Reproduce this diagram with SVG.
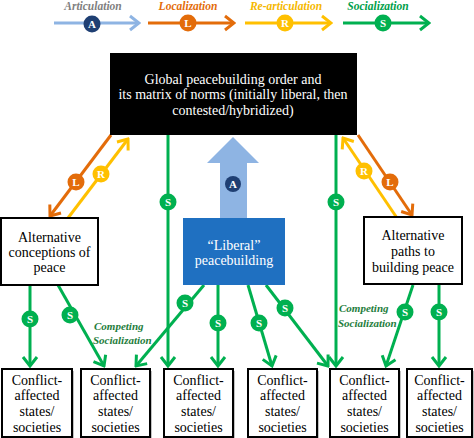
<svg xmlns="http://www.w3.org/2000/svg" width="474" height="438" viewBox="0 0 474 438" font-family="'Liberation Serif', 'Times New Roman', serif">
<defs>
<style>
text{font-family:'Liberation Serif','Times New Roman',serif;}
.lg{font-size:11.5px;font-weight:bold;font-style:italic;text-anchor:middle;}
.box{fill:#fff;stroke:#000;stroke-width:2;}
.shd{fill:#9a9a9a;opacity:0.6;}
.bt{font-size:14px;text-anchor:middle;fill:#000;}
.wt{font-size:14px;text-anchor:middle;fill:#fff;}
.g{stroke:#00b050;stroke-width:3;fill:none;marker-end:url(#mg);}
.circ text{font-size:11px;font-weight:bold;fill:#fff;text-anchor:middle;}
.cs{font-size:11px;font-weight:bold;font-style:italic;fill:#1e7d3c;}
</style>
<marker id="mg" markerUnits="userSpaceOnUse" viewBox="-12 -9 14 18" refX="0" refY="0" markerWidth="14" markerHeight="18" orient="auto"><path d="M-9,-7 L0,0 L-9,7" fill="none" stroke="#00b050" stroke-width="3"/></marker>
<marker id="mo" markerUnits="userSpaceOnUse" viewBox="-12 -9 14 18" refX="0" refY="0" markerWidth="14" markerHeight="18" orient="auto"><path d="M-9,-7 L0,0 L-9,7" fill="none" stroke="#e36c0a" stroke-width="3"/></marker>
<marker id="my" markerUnits="userSpaceOnUse" viewBox="-12 -9 14 18" refX="0" refY="0" markerWidth="14" markerHeight="18" orient="auto"><path d="M-9,-7 L0,0 L-9,7" fill="none" stroke="#ffc000" stroke-width="3"/></marker>
<marker id="mb" markerUnits="userSpaceOnUse" viewBox="-12 -9 14 18" refX="0" refY="0" markerWidth="14" markerHeight="18" orient="auto"><path d="M-9,-7 L0,0 L-9,7" fill="none" stroke="#8eb4e3" stroke-width="3"/></marker>
</defs>
<rect width="474" height="438" fill="#fff"/>

<g id="legend">
<text class="lg" x="93" y="10" fill="#7f7f7f">Articulation</text>
<text class="lg" x="188" y="10" fill="#e36c0a">Localization</text>
<text class="lg" x="286" y="10" fill="#f5b800">Re-articulation</text>
<text class="lg" x="378" y="10" fill="#00a04a">Socialization</text>
<line x1="54" y1="23" x2="139" y2="23" stroke="#8eb4e3" stroke-width="3" marker-end="url(#mb)"/>
<line x1="148" y1="23" x2="234" y2="23" stroke="#e36c0a" stroke-width="3" marker-end="url(#mo)"/>
<line x1="245" y1="23" x2="331" y2="23" stroke="#ffc000" stroke-width="3" marker-end="url(#my)"/>
<line x1="343" y1="23" x2="429" y2="23" stroke="#00b050" stroke-width="3" marker-end="url(#mg)"/>
<g class="circ">
<circle cx="92" cy="24" r="8.5" fill="#1f3f73"/><text x="92" y="28">A</text>
<circle cx="188" cy="23" r="8.5" fill="#e36c0a"/><text x="188" y="27">L</text>
<circle cx="285" cy="23" r="8.5" fill="#ffc000"/><text x="285" y="27">R</text>
<circle cx="383" cy="23" r="8.5" fill="#00b050"/><text x="383" y="27">S</text>
</g>
</g>

<g id="connectors">
<polygon points="220,218 220,163 207,163 233,137 259,163 247,163 247,218" fill="#8eb4e3"/>
<line x1="111" y1="135" x2="50" y2="216" stroke="#e36c0a" stroke-width="3" marker-end="url(#mo)"/>
<line x1="68" y1="218" x2="128" y2="139" stroke="#ffc000" stroke-width="3" marker-end="url(#my)"/>
<line x1="358" y1="135" x2="412" y2="215" stroke="#e36c0a" stroke-width="3" marker-end="url(#mo)"/>
<line x1="397" y1="218" x2="343" y2="138" stroke="#ffc000" stroke-width="3" marker-end="url(#my)"/>
<line class="g" x1="168" y1="135" x2="168" y2="366"/>
<line class="g" x1="336" y1="135" x2="336" y2="366"/>
<line class="g" x1="30" y1="285" x2="30" y2="366"/>
<line class="g" x1="58" y1="285" x2="104" y2="366"/>
<line class="g" x1="204" y1="285" x2="136" y2="366"/>
<line class="g" x1="218" y1="285" x2="218" y2="366"/>
<line class="g" x1="248" y1="285" x2="272" y2="366"/>
<line class="g" x1="266" y1="285" x2="328" y2="366"/>
<line class="g" x1="413" y1="285" x2="386" y2="366"/>
<line class="g" x1="439" y1="285" x2="439" y2="366"/>
<g class="circ">
<circle cx="76" cy="182" r="8.5" fill="#e36c0a"/><text x="76" y="186">L</text>
<circle cx="101" cy="174" r="8.5" fill="#ffc000"/><text x="101" y="178">R</text>
<circle cx="390" cy="182" r="8.5" fill="#e36c0a"/><text x="390" y="186">L</text>
<circle cx="364" cy="171" r="8.5" fill="#ffc000"/><text x="364" y="175">R</text>
<circle cx="233" cy="184" r="8" fill="#1f3f73"/><text x="233" y="188">A</text>
<circle cx="168" cy="202" r="8.5" fill="#00b050"/><text x="168" y="206">S</text>
<circle cx="336" cy="202" r="8.5" fill="#00b050"/><text x="336" y="206">S</text>
<circle cx="30" cy="319" r="8.5" fill="#00b050"/><text x="30" y="323">S</text>
<circle cx="70" cy="315" r="8.5" fill="#00b050"/><text x="70" y="319">S</text>
<circle cx="185" cy="303" r="8.5" fill="#00b050"/><text x="185" y="307">S</text>
<circle cx="218" cy="323" r="8.5" fill="#00b050"/><text x="218" y="327">S</text>
<circle cx="259" cy="323" r="8.5" fill="#00b050"/><text x="259" y="327">S</text>
<circle cx="285" cy="308" r="8.5" fill="#00b050"/><text x="285" y="312">S</text>
<circle cx="405" cy="312" r="8.5" fill="#00b050"/><text x="405" y="316">S</text>
<circle cx="439" cy="312" r="8.5" fill="#00b050"/><text x="439" y="316">S</text>
</g>
<text class="cs" x="94" y="330">Competing</text>
<text class="cs" x="93" y="344">Socialization</text>
<text class="cs" x="339" y="312">Competing</text>
<text class="cs" x="338" y="327">Socialization</text>
</g>

<g id="global">
<rect x="110" y="53" width="247" height="82" fill="#000"/>
<text class="wt" x="233" y="84">Global peacebuilding order and</text>
<text class="wt" x="233" y="99">its matrix of norms (initially liberal, then</text>
<text class="wt" x="233" y="115">contested/hybridized)</text>
</g>

<g id="alt-conceptions">
<rect class="box" x="1" y="218" width="97" height="67"/>
<text class="bt" x="49.5" y="242">Alternative</text>
<text class="bt" x="49.5" y="257">conceptions of</text>
<text class="bt" x="49.5" y="272">peace</text>
</g>

<g id="liberal">
<rect x="183" y="218" width="102" height="67" fill="#1f70c1"/>
<text class="wt" x="234" y="250">“Liberal”</text>
<text class="wt" x="234" y="265">peacebuilding</text>
</g>

<g id="alt-paths">
<rect class="box" x="364" y="217" width="98" height="67"/>
<text class="bt" x="413" y="240">Alternative</text>
<text class="bt" x="413" y="256">paths to</text>
<text class="bt" x="413" y="272">building peace</text>
</g>

<g id="cas1">
<rect class="shd" x="4" y="371" width="70" height="68"/>
<rect class="box" x="2" y="369" width="70" height="68"/>
<text class="bt" x="37" y="385">Conflict-</text><text class="bt" x="37" y="400">affected</text><text class="bt" x="37" y="416">states/</text><text class="bt" x="37" y="432">societies</text>
</g>
<g id="cas2">
<rect class="shd" x="83" y="371" width="69" height="68"/>
<rect class="box" x="81" y="369" width="69" height="68"/>
<text class="bt" x="115.5" y="385">Conflict-</text><text class="bt" x="115.5" y="400">affected</text><text class="bt" x="115.5" y="416">states/</text><text class="bt" x="115.5" y="432">societies</text>
</g>
<g id="cas3">
<rect class="shd" x="166" y="371" width="69" height="68"/>
<rect class="box" x="164" y="369" width="69" height="68"/>
<text class="bt" x="198.5" y="385">Conflict-</text><text class="bt" x="198.5" y="400">affected</text><text class="bt" x="198.5" y="416">states/</text><text class="bt" x="198.5" y="432">societies</text>
</g>
<g id="cas4">
<rect class="shd" x="250" y="371" width="69" height="68"/>
<rect class="box" x="248" y="369" width="69" height="68"/>
<text class="bt" x="282.5" y="385">Conflict-</text><text class="bt" x="282.5" y="400">affected</text><text class="bt" x="282.5" y="416">states/</text><text class="bt" x="282.5" y="432">societies</text>
</g>
<g id="cas5">
<rect class="shd" x="332" y="371" width="69" height="68"/>
<rect class="box" x="330" y="369" width="69" height="68"/>
<text class="bt" x="364.5" y="385">Conflict-</text><text class="bt" x="364.5" y="400">affected</text><text class="bt" x="364.5" y="416">states/</text><text class="bt" x="364.5" y="432">societies</text>
</g>
<g id="cas6">
<rect class="shd" x="409" y="371" width="65" height="68"/>
<rect class="box" x="407" y="369" width="65" height="68"/>
<text class="bt" x="439.5" y="385">Conflict-</text><text class="bt" x="439.5" y="400">affected</text><text class="bt" x="439.5" y="416">states/</text><text class="bt" x="439.5" y="432">societies</text>
</g>
</svg>
